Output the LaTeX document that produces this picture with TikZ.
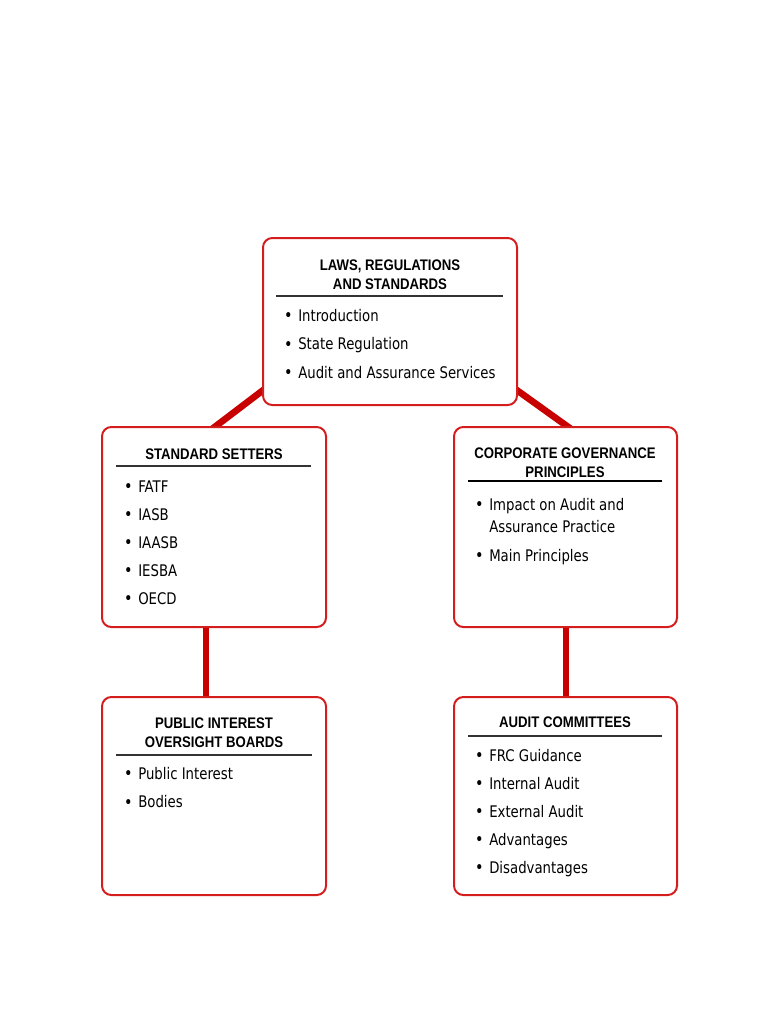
\documentclass[tikz,border=0pt]{standalone}
\usepackage{fontspec}
\newfontfamily\bodyfont{DejaVu Sans}[FakeStretch=0.83]
\newfontfamily\headfont{Liberation Sans}[FakeStretch=0.86]
\usetikzlibrary{positioning,backgrounds}

\definecolor{boxred}{RGB}{212,30,30}
\definecolor{linkred}{RGB}{200,0,0}

\tikzset{
  card/.style={draw=boxred, line width=1.5pt, rounded corners=7pt, fill=white, inner sep=0pt},
  link/.style={draw=linkred, line width=5pt, shorten <=-8pt, shorten >=-8pt},
  title/.style={font=\headfont\bfseries\fontsize{11.5}{14}\selectfont, align=center, inner sep=0pt, anchor=south},
  rule/.style={draw=black!80, line width=0.8pt},
  itemtext/.style={font=\bodyfont\fontsize{12}{15}\selectfont, inner sep=0pt, anchor=west, text height=9pt, text depth=3pt},
  item/.style={itemtext, label={[font=\bodyfont\fontsize{13}{15}\selectfont, inner sep=0pt, label distance=3.8pt]left:\textbullet}}
}

\begin{document}
\begin{tikzpicture}[x=0.75pt, y=-0.75pt]
\useasboundingbox (0,0) rectangle (768,1024);

% boxes
\node[card, minimum width=190.5pt, minimum height=125.25pt] (laws) at (390,321.5) {};
\node[card, minimum width=168pt, minimum height=150pt] (setters) at (214,527) {};
\node[card, minimum width=167.25pt, minimum height=150pt] (gov) at (565.5,527) {};
\node[card, minimum width=168pt, minimum height=148.5pt] (pub) at (214,796) {};
\node[card, minimum width=167.25pt, minimum height=148.5pt] (comm) at (565.5,796) {};

% links behind the boxes
\begin{scope}[on background layer]
\fill[white] (0,0) rectangle (768,1024);
\draw[link] ([yshift=11.25pt]laws.south west) -- ([xshift=1.5pt]setters.north);
\draw[link] ([yshift=11.25pt]laws.south east) -- ([xshift=1pt]gov.north);
\draw[link] ([xshift=-6pt]setters.south) -- ([xshift=-6pt]pub.north);
\draw[link] ([xshift=0.4pt]gov.south) -- ([xshift=0.4pt]comm.north);
\end{scope}

% laws, regulations and standards
\node[title] (laws-t) at (390,289.5) {LAWS, REGULATIONS\\AND STANDARDS};
\draw[rule] (276,296) -- (503,296);
\node[item] (laws-1) at (298,317) {Introduction};
\node[item, below=9pt of laws-1.south west, anchor=north west] (laws-2) {State Regulation};
\node[item, below=9pt of laws-2.south west, anchor=north west] (laws-3) {Audit and Assurance Services};

% standard setters
\node[title] (setters-t) at (214,459.5) {STANDARD SETTERS};
\draw[rule] (116,466) -- (311,466);
\node[item] (setters-1) at (138,488) {FATF};
\node[item, below=8.6pt of setters-1.south west, anchor=north west] (setters-2) {IASB};
\node[item, below=8.6pt of setters-2.south west, anchor=north west] (setters-3) {IAASB};
\node[item, below=8.6pt of setters-3.south west, anchor=north west] (setters-4) {IESBA};
\node[item, below=8.6pt of setters-4.south west, anchor=north west] (setters-5) {OECD};

% corporate governance principles
\node[title] (gov-t) at (565,477.5) {CORPORATE GOVERNANCE\\PRINCIPLES};
\draw[rule, draw=black, line width=2pt] (468,481) -- (662,481);
\node[item] (gov-1) at (489,506) {Impact on Audit and};
\node[itemtext, below=4.5pt of gov-1.south west, anchor=north west] (gov-1b) {Assurance Practice};
\node[item, below=9pt of gov-1b.south west, anchor=north west] (gov-2) {Main Principles};

% public interest oversight boards
\node[title] (pub-t) at (214,747.5) {PUBLIC INTEREST\\OVERSIGHT BOARDS};
\draw[rule] (116,755) -- (312,755);
\node[item] (pub-1) at (138,775) {Public Interest};
\node[item, below=9pt of pub-1.south west, anchor=north west] (pub-2) {Bodies};

% audit committees
\node[title] (comm-t) at (565,727.5) {AUDIT COMMITTEES};
\draw[rule] (468,736) -- (662,736);
\node[item] (comm-1) at (489,757) {FRC Guidance};
\node[item, below=8.6pt of comm-1.south west, anchor=north west] (comm-2) {Internal Audit};
\node[item, below=8.6pt of comm-2.south west, anchor=north west] (comm-3) {External Audit};
\node[item, below=8.6pt of comm-3.south west, anchor=north west] (comm-4) {Advantages};
\node[item, below=8.6pt of comm-4.south west, anchor=north west] (comm-5) {Disadvantages};
\end{tikzpicture}
\end{document}
